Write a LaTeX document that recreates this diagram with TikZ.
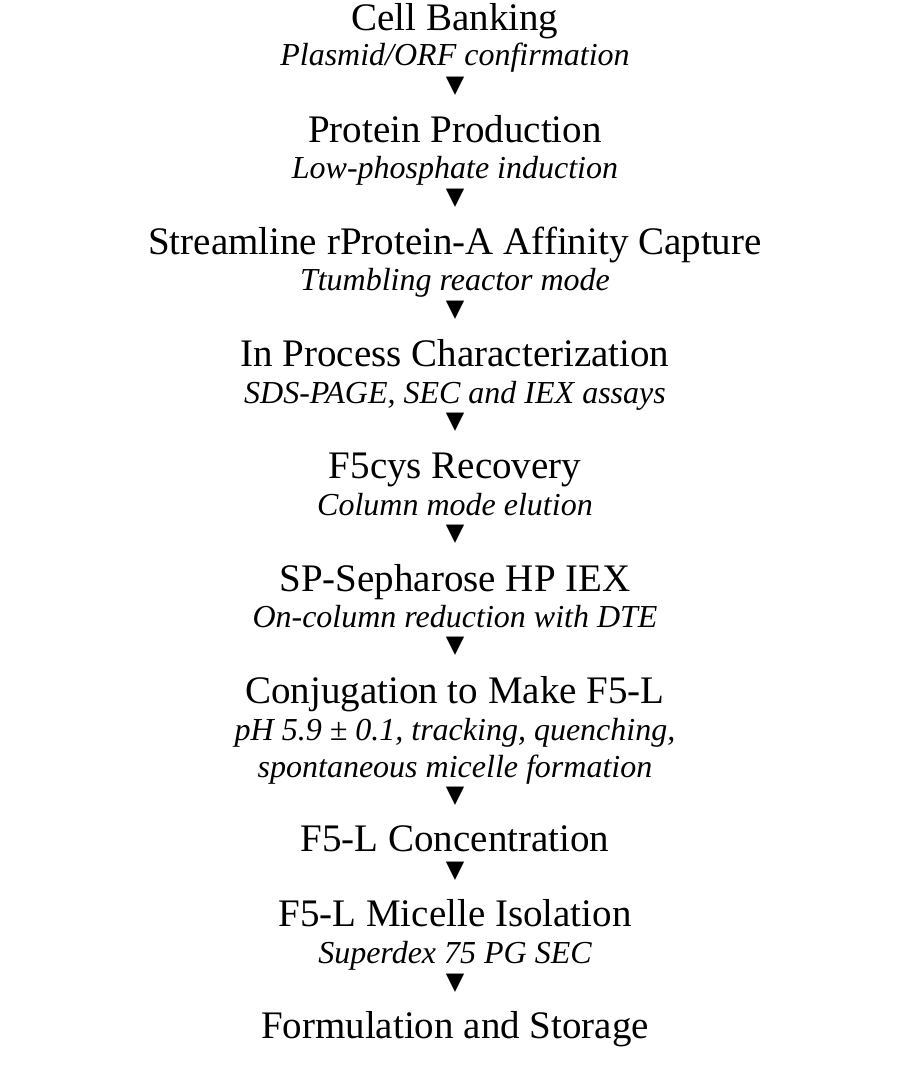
\documentclass[tikz,border=0pt]{standalone}
\usepackage{fontspec}
\setmainfont{Liberation Serif}
\newfontfamily\symfont{DejaVu Sans}
\tikzset{
  steptitle/.style={anchor=base, inner sep=0pt, font=\fontsize{39}{44}\selectfont},
  stepnote/.style={anchor=base, inner sep=0pt, align=center, font=\fontsize{32}{37}\selectfont\itshape},
  tri/.style={inner sep=0pt, font=\symfont\fontsize{24}{24}\selectfont},
}
\begin{document}
\begin{tikzpicture}[x=1pt, y=1pt]
        \useasboundingbox (0, 0) rectangle (917, -1072);

        \node[steptitle] (bank) at (455, -30) {Cell Banking};
        \node[stepnote] (bankn) at (455, -65) {Plasmid/ORF confirmation};
        \node[tri] (t1) at (455, -86) {▼};

        \node[steptitle] (prod) at (455, -142) {Protein Production};
        \node[stepnote] (prodn) at (455, -178) {Low-phosphate induction};
        \node[tri] (t2) at (455, -198) {▼};

        \node[steptitle] (capt) at (455, -254) {Streamline rProtein-A Affinity Capture};
        \node[stepnote] (captn) at (455, -290) {Ttumbling reactor mode};
        \node[tri] (t3) at (455, -310) {▼};

        \node[steptitle] (char) at (455, -366) {In Process Characterization};
        \node[stepnote] (charn) at (455, -403) {SDS-PAGE, SEC and IEX assays};
        \node[tri] (t4) at (455, -422) {▼};

        \node[steptitle] (recv) at (455, -478) {F5cys Recovery};
        \node[stepnote] (recvn) at (455, -515) {Column mode elution};
        \node[tri] (t5) at (455, -534) {▼};

        \node[steptitle] (iex) at (455, -591) {SP-Sepharose HP IEX};
        \node[stepnote] (iexn) at (455, -627) {On-column reduction with DTE};
        \node[tri] (t6) at (455, -646) {▼};

        \node[steptitle] (conj) at (455, -703) {Conjugation to Make F5-L};
        \node[stepnote] (conjn) at (455, -740) {pH 5.9 ± 0.1, tracking, quenching,};
        \node[stepnote] (conjm) at (455, -777) {spontaneous micelle formation};
        \node[tri] (t7) at (455, -796) {▼};

        \node[steptitle] (conc) at (455, -851) {F5-L Concentration};
        \node[tri] (t8) at (455, -871) {▼};

        \node[steptitle] (isol) at (455, -926) {F5-L Micelle Isolation};
        \node[stepnote] (isoln) at (455, -963) {Superdex 75 PG SEC};
        \node[tri] (t9) at (455, -983) {▼};

        \node[steptitle] (form) at (455, -1038) {Formulation and Storage};
    \end{tikzpicture}
\end{document}
